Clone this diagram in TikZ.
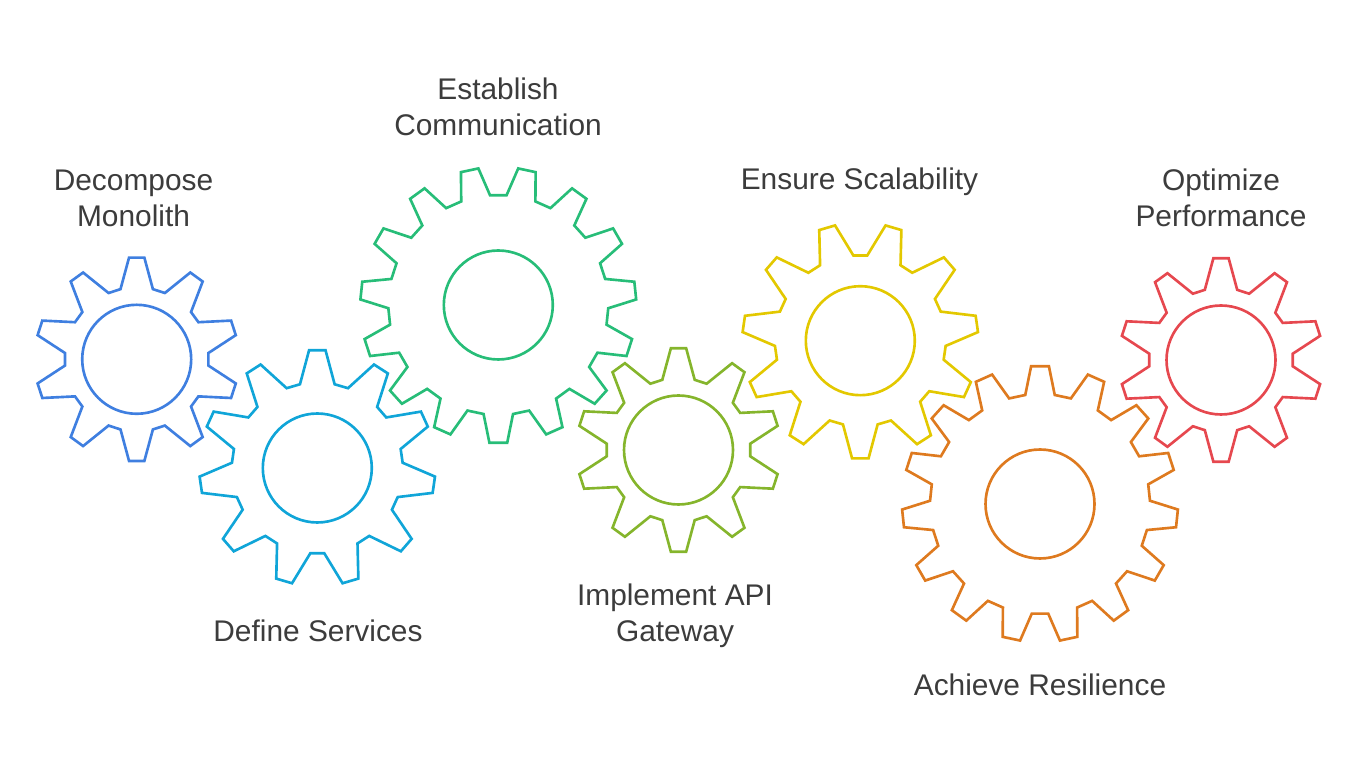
\documentclass[tikz,border=0pt]{standalone}
\usepackage{fontspec}
\setmainfont{Liberation Sans}
\definecolor{gearblue}{HTML}{3F7FE0}
\definecolor{gearcyan}{HTML}{10A5D8}
\definecolor{geargreen}{HTML}{27BD78}
\definecolor{gearlime}{HTML}{85B52C}
\definecolor{gearyellow}{HTML}{E3C800}
\definecolor{gearorange}{HTML}{DE7A1F}
\definecolor{gearred}{HTML}{E6484F}
\definecolor{labelgray}{HTML}{3C3C3C}
\tikzset{
    gearline/.style={line width=1.5pt,line join=miter},
    hubring/.style={circle,line width=1.5pt,minimum size=2.18cm,inner sep=0pt},
    gearlabel/.style={align=center,text=labelgray,inner sep=0pt,font=\fontsize{17}{20.4}\selectfont}
}
\begin{document}
\begin{tikzpicture}[x=0.02cm,y=0.02cm]
        \useasboundingbox (0,0) rectangle (1358,777);
        \foreach \gx/\gy/\gn/\ga/\gtip/\groot/\tipang/\rootang/\gcol/\gname in {
            136.7/417.7/10/90/102/72/4.3/13/gearblue/hubMonolith,
            317.3/309/11/90/118/85.5/4/11.7/gearcyan/hubServices,
            498.3/472/15/270/138/110/3.7/7.7/geargreen/hubCommunication,
            678.5/327/10/90/102/72/4.3/13/gearlime/hubGateway,
            860.3/436.3/11/270/118/85.5/4/11.7/gearyellow/hubScalability,
            1040/273/15/90/138/110/3.7/7.7/gearorange/hubResilience,
            1221/417/10/90/102/72/4.3/13/gearred/hubPerformance}{
            \node[hubring,draw=\gcol] (\gname) at (\gx,\gy) {};
            \draw[gearline,draw=\gcol,shift={(\gx,\gy)}] ({\ga+\rootang}:\groot)
                \foreach \k in {1,...,\gn}{
                    -- ({\ga+\k*360/\gn-\rootang}:\groot)
                    -- ({\ga+\k*360/\gn-\tipang}:\gtip)
                    -- ({\ga+\k*360/\gn+\tipang}:\gtip)
                    -- ({\ga+\k*360/\gn+\rootang}:\groot)
                } -- cycle;
        }
        \node[gearlabel] (lblMonolith) at (133.5,579) {Decompose\\Monolith};
        \node[gearlabel] (lblServices) at (318,146) {Define Services};
        \node[gearlabel] (lblCommunication) at (498,670) {Establish\\Communication};
        \node[gearlabel] (lblGateway) at (675,161) {Implement API\\Gateway};
        \node[gearlabel] (lblScalability) at (859.5,595) {Ensure Scalability};
        \node[gearlabel] (lblResilience) at (1040,92) {Achieve Resilience};
        \node[gearlabel] (lblPerformance) at (1221,579) {Optimize\\Performance};
    \end{tikzpicture}
\end{document}
